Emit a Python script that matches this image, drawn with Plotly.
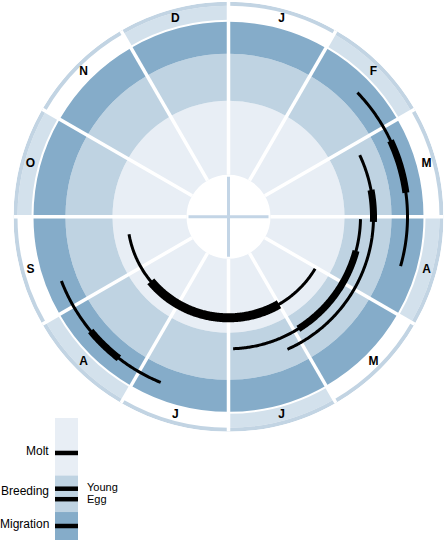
import numpy as np
import plotly.graph_objects as go

# ---- data -------------------------------------------------------------
MONTHS = ["J", "F", "M", "A", "M", "J", "J", "A", "S", "O", "N", "D"]
DAYS_IN_MONTH = [31, 28, 31, 30, 31, 30, 31, 31, 30, 31, 30, 31]

# concentric bands of the annual cycle
BAND_NAMES = ["Molt", "Breeding", "Migration"]
BAND_INNER = [42, 116, 163]
BAND_OUTER = [116, 163, 195]

# activity windows (MM-DD): whole period and peak period
ACT_LABEL = ["Molt", "Egg", "Young", "Migration", "Migration"]
ACT_START = ["05-02", "03-06", "04-02", "02-16", "07-24"]
ACT_PEAK_START = ["06-01", "03-21", "04-16", "03-06", "08-09"]
ACT_PEAK_END = ["08-22", "04-03", "05-30", "03-24", "08-22"]
ACT_END = ["09-21", "06-07", "06-29", "04-17", "09-10"]

# key entries
KEY_LABELS = ["Molt", "Breeding", "Migration"]
KEY_SUBLABELS = ["Young", "Egg"]

# ---- styling ------------------------------------------------------------
BAND_COLORS = ["#e8eef5", "#bfd3e2", "#85acc9"]
RING_FILL = "#d3e1ec"
RING_EDGE = "#c2d4e3"
CROSS_COLOR = "#c3d5e6"
TRACK_RADIUS = {"Molt": 101, "Egg": 145, "Young": 132, "Migration": 179}
THIN_W = 3
THICK_W = {"Molt": 9, "Egg": 7, "Young": 7, "Migration": 7}
FONT = "Liberation Sans, Arial, sans-serif"


def to_deg(mmdd):
    m, d = (int(v) for v in mmdd.split("-"))
    return (m - 1) * 30 + 30 * (d - 1) / DAYS_IN_MONTH[m - 1]


def arc_thetas(a0, a1):
    # sample the arc finely so the polyline follows the circle
    n = max(2, int(abs(a1 - a0) / 0.5) + 1)
    return np.linspace(a0, a1, n)


fig = go.Figure()

month_mid = [15 + 30 * i for i in range(12)]

# coloured bands, one wedge per month
for name, r0, r1, col in zip(BAND_NAMES, BAND_INNER, BAND_OUTER, BAND_COLORS):
    fig.add_trace(go.Barpolar(
        theta=month_mid, r=[r1 - r0] * 12, base=[r0] * 12, width=[30] * 12,
        marker=dict(color=col, line=dict(width=0)), name=name,
        hoverinfo="skip"))

# outer month ring: alternate months filled, all with an outer rim
filled = [i for i in range(12) if i % 2 == 1]
fig.add_trace(go.Barpolar(
    theta=[month_mid[i] for i in filled], r=[14] * len(filled),
    base=[197] * len(filled), width=[30] * len(filled),
    marker=dict(color=RING_FILL, line=dict(width=0)), hoverinfo="skip"))
fig.add_trace(go.Barpolar(
    theta=month_mid, r=[4] * 12, base=[211] * 12, width=[30] * 12,
    marker=dict(color=RING_EDGE, line=dict(width=0)), hoverinfo="skip"))

# white month dividers
sp_r, sp_t = [], []
for i in range(12):
    sp_r += [42, 215, None]
    sp_t += [30 * i, 30 * i, None]
fig.add_trace(go.Scatterpolar(
    r=sp_r, theta=sp_t, mode="lines",
    line=dict(color="white", width=3.5), hoverinfo="skip"))

# cross in the centre
fig.add_trace(go.Scatterpolar(
    r=[40, 40, None, 40, 40], theta=[0, 180, None, 90, 270], mode="lines",
    line=dict(color=CROSS_COLOR, width=3), hoverinfo="skip"))

# activity arcs: thin for the whole period, thick for the peak
for lab, s, ps, pe, e in zip(ACT_LABEL, ACT_START, ACT_PEAK_START,
                             ACT_PEAK_END, ACT_END):
    rad = TRACK_RADIUS[lab]
    for (t0, t1), w in (((to_deg(s), to_deg(e)), THIN_W),
                        ((to_deg(ps), to_deg(pe)), THICK_W[lab])):
        th = arc_thetas(t0, t1)
        fig.add_trace(go.Scatterpolar(
            r=[rad] * len(th), theta=th, mode="lines", name=lab,
            line=dict(color="black", width=w), hoverinfo="skip"))

# month initials
fig.add_trace(go.Scatterpolar(
    r=[205] * 12, theta=month_mid, mode="text", text=MONTHS,
    textfont=dict(family=FONT, size=12, color="black", weight="bold"),
    cliponaxis=False, hoverinfo="skip"))

# ---- key ----------------------------------------------------------------
KEY_Y_MAX = 199
key_heights = [o - i for i, o in zip(BAND_INNER, BAND_OUTER)]
key_heights[-1] = KEY_Y_MAX - BAND_INNER[-1]
fig.add_trace(go.Bar(
    x=[0, 0, 0], y=key_heights, base=BAND_INNER, width=1,
    marker=dict(color=BAND_COLORS, line=dict(width=0)),
    xaxis="x", yaxis="y", hoverinfo="skip"))

key_mark_y = {"Molt": 87, "Young": 133, "Egg": 146.5, "Migration": 181}
for lab, yv in key_mark_y.items():
    fig.add_trace(go.Scatter(
        x=[-0.5, 0.5], y=[yv, yv], mode="lines",
        line=dict(color="black", width=4.5),
        xaxis="x", yaxis="y", hoverinfo="skip"))

key_label_y = {"Molt": 450.5, "Breeding": 491, "Migration": 523.5}
for lab in KEY_LABELS:
    fig.add_annotation(
        x=51 / 445, y=1 - key_label_y[lab] / 540, xref="paper", yref="paper",
        text=lab, showarrow=False, xanchor="right", yanchor="middle",
        font=dict(family=FONT, size=12, color="black"))
for lab, yp in zip(KEY_SUBLABELS, [487, 498.5]):
    fig.add_annotation(
        x=85 / 445, y=1 - yp / 540, xref="paper", yref="paper",
        text=lab, showarrow=False, xanchor="left", yanchor="middle",
        font=dict(family=FONT, size=11, color="black"))

cx, cy, R = 228.5, 216.8, 215
fig.update_layout(
    width=445, height=540, margin=dict(l=0, r=0, t=0, b=0),
    paper_bgcolor="white", plot_bgcolor="white", showlegend=False,
    polar=dict(
        domain=dict(x=[(cx - R) / 445, (cx + R) / 445],
                    y=[(540 - cy - R) / 540, (540 - cy + R) / 540]),
        bgcolor="white", barmode="overlay", bargap=0,
        radialaxis=dict(range=[0, R], visible=False),
        angularaxis=dict(rotation=90, direction="clockwise",
                         showgrid=False, showline=False,
                         showticklabels=False, ticks=""),
    ),
    xaxis=dict(domain=[55 / 445, 78 / 445], range=[-0.5, 0.5],
               visible=False, fixedrange=True),
    yaxis=dict(domain=[0, 122 / 540], range=[KEY_Y_MAX, 42],
               visible=False, fixedrange=True),
)

fig.write_html("out.html")
